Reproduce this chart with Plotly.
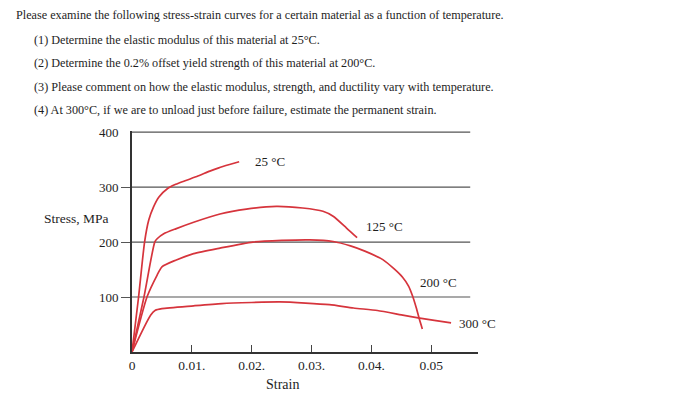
import plotly.graph_objects as go

# ---------------- data ----------------
strain_25 = [0, 0.0011, 0.0021, 0.0028, 0.0036, 0.0045, 0.0059, 0.0073, 0.0090, 0.0110, 0.0130, 0.0145, 0.0163, 0.0179]
stress_25 = [0, 100, 200, 240, 264, 282, 297, 305, 312, 320, 329, 335, 341, 346]

strain_125 = [0, 0.0020, 0.0038, 0.0042, 0.0053, 0.0073, 0.0103, 0.0147, 0.0191, 0.0241, 0.0285, 0.0319, 0.0336, 0.0358, 0.0376]
stress_125 = [0, 100, 200, 206, 215, 224, 236, 251, 260, 265, 262, 256, 247, 226, 208]

strain_200 = [0, 0.0025, 0.0042, 0.0050, 0.0073, 0.0103, 0.0147, 0.0202, 0.0250, 0.0297, 0.0336, 0.0365, 0.0390, 0.0419, 0.0438, 0.0452, 0.0462, 0.0469, 0.0475, 0.0480, 0.0485]
stress_200 = [0, 100, 140, 155, 167, 179, 189, 200, 203, 204, 201, 193, 183, 168, 151, 136, 120, 101, 80, 60, 42]

strain_300 = [0, 0.0031, 0.0039, 0.0050, 0.0103, 0.0150, 0.0200, 0.0247, 0.0290, 0.0330, 0.0370, 0.0410, 0.0450, 0.0478, 0.0505, 0.0533]
stress_300 = [0, 67, 76, 79, 84, 88, 90, 91, 89, 86, 80, 75.5, 67.5, 62, 57.5, 53]

curve_labels = ["25 \u00b0C", "125 \u00b0C", "200 \u00b0C", "300 \u00b0C"]
label_strain = [0.0231, 0.0422, 0.0512, 0.0577]
label_stress = [347, 229, 127, 52]

x_tick_vals = [0, 0.01, 0.02, 0.03, 0.04, 0.05]
x_tick_text = ["0", "0.01.", "0.02.", "0.03.", "0.04.", "0.05"]
y_tick_vals = [100, 200, 300]
y_top_label = 400
grid_vals = [100, 200, 300, 400]
grid_end = 0.0565

question_lines = [
    "Please examine the following stress-strain curves for a certain material as a function of temperature.",
    "(1) Determine the elastic modulus of this material at 25\u00b0C.",
    "(2) Determine the 0.2% offset yield strength of this material at 200\u00b0C.",
    "(3) Please comment on how the elastic modulus, strength, and ductility vary with temperature.",
    "(4) At 300\u00b0C, if we are to unload just before failure, estimate the permanent strain.",
]

# ---------------- layout geometry ----------------
W, H = 700, 399
ML, MR, MT, MB = 132, 222, 131, 47
PW, PH = W - ML - MR, H - MT - MB


def px_x(px):
    return (px - ML) / PW


def px_y(py):
    return (H - MB - py) / PH


SERIF = "Liberation Serif, Times New Roman, serif"
RED = "#d6343c"
INK = "#1e1e1e"

fig = go.Figure()
series = [(strain_25, stress_25), (strain_125, stress_125), (strain_200, stress_200), (strain_300, stress_300)]
for (sx, sy), name in zip(series, curve_labels):
    fig.add_trace(go.Scatter(x=sx, y=sy, mode="lines", name=name,
                             line=dict(color=RED, width=1.7, shape="spline", smoothing=0.6),
                             hoverinfo="skip", showlegend=False))

for v in grid_vals:
    fig.add_shape(type="line", xref="x", yref="y", x0=0, x1=grid_end, y0=v, y1=v,
                  line=dict(color="#555555", width=1.2), layer="below")

annotations = []
for t, sx, sy in zip(curve_labels, label_strain, label_stress):
    annotations.append(dict(x=sx, y=sy, xref="x", yref="y", text=t, showarrow=False,
                            font=dict(family=SERIF, size=13, color=INK), xanchor="center", yanchor="middle"))

annotations.append(dict(x=0, y=y_top_label, xref="paper", yref="y", text=str(y_top_label), showarrow=False,
                        xanchor="right", yanchor="middle", xshift=-11,
                        font=dict(family=SERIF, size=13, color=INK)))
annotations.append(dict(x=px_x(76), y=px_y(218), xref="paper", yref="paper", text="Stress, MPa",
                        showarrow=False, xanchor="center", yanchor="middle",
                        font=dict(family=SERIF, size=13.5, color=INK)))
annotations.append(dict(x=px_x(282.5), y=px_y(384), xref="paper", yref="paper", text="Strain",
                        showarrow=False, xanchor="center", yanchor="middle",
                        font=dict(family=SERIF, size=14, color=INK)))

line_y = [15, 40, 63, 87, 110]
line_x = [14, 32, 32, 32, 32]
for t, lx, ly in zip(question_lines, line_x, line_y):
    annotations.append(dict(x=px_x(lx), y=px_y(ly), xref="paper", yref="paper", text=t, showarrow=False,
                            xanchor="left", yanchor="middle",
                            font=dict(family=SERIF, size=12.2, color=INK)))

fig.update_layout(
    width=W, height=H,
    margin=dict(l=ML, r=MR, t=MT, b=MB, pad=0),
    paper_bgcolor="white", plot_bgcolor="white",
    showlegend=False,
    annotations=annotations,
    xaxis=dict(range=[0, 0.0578], tickmode="array", tickvals=x_tick_vals, ticktext=x_tick_text,
               ticks="inside", ticklen=7, tickwidth=1, tickcolor="#444444",
               showline=True, linewidth=2, linecolor="#333333", showgrid=False, zeroline=False,
               tickfont=dict(family=SERIF, size=13.5, color=INK), ticklabelstandoff=0),
    yaxis=dict(range=[0, 402], tickmode="array", tickvals=y_tick_vals,
               ticks="outside", ticklen=9, tickwidth=1.2, tickcolor="#555555",
               showline=True, linewidth=2, linecolor="#333333", showgrid=False, zeroline=False,
               tickfont=dict(family=SERIF, size=13, color=INK)),
)

fig.write_html("out.html", config={"displayModeBar": False},
               post_script="document.body.style.margin='0';document.body.style.overflow='hidden';")
